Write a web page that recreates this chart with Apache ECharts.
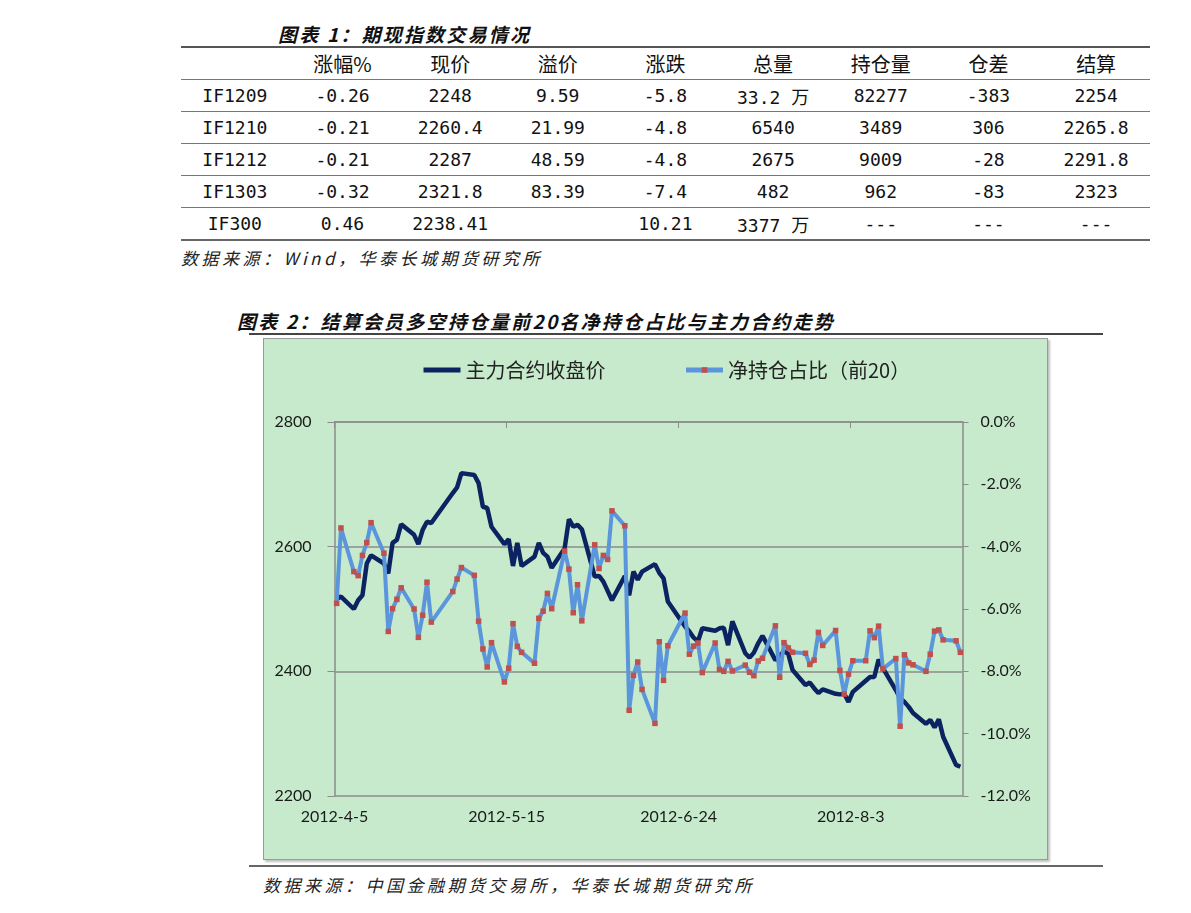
<!DOCTYPE html>
<html>
<head>
<meta charset="utf-8">
<script src="https://cdn.jsdelivr.net/npm/echarts@6/dist/echarts.min.js"></script>
<style>
  body { margin: 0; background: #fff; width: 1191px; height: 913px; position: relative; overflow: hidden;
         font-family: "Noto Sans CJK SC", sans-serif; color: #111; }
  .cap { position: absolute; font-style: italic; font-weight: bold; font-size: 19px; letter-spacing: 2.2px; white-space: nowrap; }
  .src { position: absolute; font-style: italic; font-size: 17px; letter-spacing: 3.5px; white-space: nowrap; color: #222; }
  .rule { position: absolute; background: #444; }
  table { position: absolute; left: 181px; top: 46px; width: 969px; border-collapse: collapse; table-layout: fixed; }
  th, td { text-align: center; padding: 0; height: 31px; white-space: nowrap; }
  th { font-weight: normal; font-size: 20px; border-top: 2px solid #555; border-bottom: 1.5px solid #777; }
  td { font-family: "DejaVu Sans Mono", "Noto Sans CJK SC", monospace; font-size: 18px; border-bottom: 1.5px solid #777; }
  tr:last-child td { border-bottom: 2px solid #666; }
  #chart { position: absolute; left: 263px; top: 338px; width: 785px; height: 522px; box-sizing: border-box;
           border: 1px solid #9a9a9a; box-shadow: 2px 2px 2px rgba(0,0,0,0.25); background: #c6eacb; }
</style>
</head>
<body>
<div class="cap" style="left:278px; top:20px;">图表 1：期现指数交易情况</div>
<table id="tbl"></table>
<div class="src" style="left:181px; top:245px;">数据来源：Wind，华泰长城期货研究所</div>

<div class="cap" style="left:237px; top:307px;">图表 2：结算会员多空持仓量前20名净持仓占比与主力合约走势</div>
<div class="rule" style="left:249px; top:333px; width:854px; height:1.5px;"></div>
<div id="chart"></div>
<div class="rule" style="left:249px; top:865px; width:854px; height:2px; background:#666;"></div>
<div class="src" style="left:263px; top:872px;">数据来源：中国金融期货交易所，华泰长城期货研究所</div>

<script>
// 表格数据
const tableHeader = ['', '涨幅%', '现价', '溢价', '涨跌', '总量', '持仓量', '仓差', '结算']
const tableRows = [
  ['IF1209', '-0.26', '2248', '9.59', '-5.8', '33.2 万', '82277', '-383', '2254'],
  ['IF1210', '-0.21', '2260.4', '21.99', '-4.8', '6540', '3489', '306', '2265.8'],
  ['IF1212', '-0.21', '2287', '48.59', '-4.8', '2675', '9009', '-28', '2291.8'],
  ['IF1303', '-0.32', '2321.8', '83.39', '-7.4', '482', '962', '-83', '2323'],
  ['IF300', '0.46', '2238.41', '', '10.21', '3377 万', '---', '---', '---'],
]

// 图表数据（交易日）
const dates = [
  '2012-04-05','2012-04-06','2012-04-09','2012-04-10','2012-04-11','2012-04-12','2012-04-13',
  '2012-04-16','2012-04-17','2012-04-18','2012-04-19','2012-04-20','2012-04-23','2012-04-24',
  '2012-04-25','2012-04-26','2012-04-27',
  '2012-05-02','2012-05-03','2012-05-04','2012-05-07','2012-05-08','2012-05-09','2012-05-10',
  '2012-05-11','2012-05-14','2012-05-15','2012-05-16','2012-05-17','2012-05-18','2012-05-21',
  '2012-05-22','2012-05-23','2012-05-24','2012-05-25','2012-05-28','2012-05-29','2012-05-30',
  '2012-05-31',
  '2012-06-01','2012-06-04','2012-06-05','2012-06-06','2012-06-07','2012-06-08','2012-06-11',
  '2012-06-12','2012-06-13','2012-06-14','2012-06-15','2012-06-18','2012-06-19','2012-06-20',
  '2012-06-21','2012-06-25','2012-06-26','2012-06-27','2012-06-28','2012-06-29',
  '2012-07-02','2012-07-03','2012-07-04','2012-07-05','2012-07-06','2012-07-09','2012-07-10',
  '2012-07-11','2012-07-12','2012-07-13','2012-07-16','2012-07-17','2012-07-18','2012-07-19',
  '2012-07-20','2012-07-23','2012-07-24','2012-07-25','2012-07-26','2012-07-27','2012-07-30',
  '2012-07-31',
  '2012-08-01','2012-08-02','2012-08-03','2012-08-06','2012-08-07','2012-08-08','2012-08-09',
  '2012-08-10','2012-08-13','2012-08-14','2012-08-15','2012-08-16','2012-08-17','2012-08-20',
  '2012-08-21','2012-08-22','2012-08-23','2012-08-24','2012-08-27','2012-08-28',
]
// 主力合约收盘价
const closePrice = [
  2516, 2520, 2500, 2514, 2522, 2573, 2586, 2573, 2557, 2606, 2611, 2636, 2619, 2604, 2627, 2640, 2638,
  2686, 2695, 2718, 2715, 2702, 2664, 2662, 2632, 2604, 2612, 2569, 2606, 2569, 2584, 2606, 2590,
  2584, 2566, 2597, 2644, 2632, 2635,
  2628, 2552, 2553, 2544, 2529, 2514, 2553, 2522, 2560, 2547, 2560, 2572, 2558, 2549, 2512, 2472,
  2464, 2454, 2448, 2469,
  2465, 2469, 2470, 2442, 2480, 2429, 2422, 2430, 2445, 2457, 2418, 2425, 2432, 2428, 2402, 2378,
  2382, 2373, 2365, 2371, 2364, 2363,
  2364, 2351, 2367, 2385, 2391, 2391, 2419, 2405, 2370, 2357, 2351, 2343, 2333, 2316, 2322, 2310,
  2323, 2295, 2250, 2247,
]
// 净持仓占比（前20），单位 %
const netRatio = [
  -5.82, -3.40, -4.80, -4.93, -4.28, -3.87, -3.23, -4.21, -6.72, -5.99, -5.69, -5.32, -6.00, -6.91,
  -6.20, -5.14, -6.42,
  -5.44, -5.04, -4.67, -4.92, -6.39, -7.28, -7.86, -7.08, -8.34, -7.90, -6.47, -7.20, -7.39, -7.74,
  -6.30, -6.07, -5.50, -5.99, -4.14, -4.72, -6.12, -5.22,
  -6.38, -3.94, -4.70, -4.28, -4.41, -2.85, -3.33, -9.25, -8.13, -7.70, -8.58, -9.67, -7.05, -8.29,
  -7.18, -6.13, -7.45, -7.19, -7.09, -8.04,
  -7.09, -7.94, -8.00, -7.68, -7.99, -7.80, -8.03, -8.14, -7.67, -7.58, -6.54, -8.19, -7.08, -7.25,
  -7.39, -7.42, -7.78, -7.64, -6.75, -7.17, -6.69, -7.97,
  -8.73, -8.09, -7.66, -7.66, -6.70, -6.92, -6.55, -7.92, -7.59, -9.76, -7.47, -7.73, -7.79, -8.00,
  -7.45, -6.71, -6.67, -6.99, -7.02, -7.39,
]
const tickDates = ['2012-4-5', '2012-5-15', '2012-6-24', '2012-8-3']

// 表格
const tbl = document.getElementById('tbl')
tbl.innerHTML = '<tr>' + tableHeader.map(h => `<th>${h}</th>`).join('') + '</tr>' +
  tableRows.map(r => '<tr>' + r.map(c => `<td>${c}</td>`).join('') + '</tr>').join('')

// 日期 -> 天数偏移
const toUTC = s => { const p = s.split('-').map(Number); return Date.UTC(p[0], p[1] - 1, p[2]) }
const startT = toUTC(dates[0])
const dayOf = s => (toUTC(s) - startT) / 86400000
const tickVals = tickDates.map(dayOf)
const lastDay = dayOf(dates[dates.length - 1]) + 1

const labelFont = { fontFamily: 'Lato', fontSize: 16, color: '#1a1a1a' }
const gray = '#8c8c8c'
const navy = '#0b2461'
const lightBlue = '#5b95db'
const red = '#c0504d'

const chart = echarts.init(document.getElementById('chart'))
chart.setOption({
  animation: false,
  legend: {
    left: 152,
    top: 16,
    itemWidth: 37,
    itemHeight: 7,
    itemGap: 78,
    textStyle: { fontFamily: 'Noto Sans CJK SC', fontSize: 20, color: '#222' },
    data: [
      {
        name: '主力合约收盘价',
        itemStyle: { color: 'rgba(0,0,0,0)', borderWidth: 0 },
        lineStyle: { color: navy, width: 5 },
      },
      {
        name: '净持仓占比（前20）',
        itemStyle: { color: red, borderWidth: 0 },
        lineStyle: { color: lightBlue, width: 5 },
      },
    ],
  },
  grid: { left: 70.5, right: 84.5, top: 83, bottom: 63 },
  xAxis: {
    type: 'value',
    min: 0,
    max: lastDay,
    axisLine: { lineStyle: { color: gray, width: 1.5 } },
    axisTick: { customValues: tickVals, length: 6, lineStyle: { color: gray } },
    axisLabel: {
      customValues: tickVals,
      margin: 13,
      ...labelFont,
      formatter: v => tickDates[tickVals.indexOf(v)] || '',
    },
    splitLine: { show: false },
  },
  yAxis: [
    {
      type: 'value',
      min: 2200,
      max: 2800,
      interval: 200,
      axisLine: { show: true, lineStyle: { color: gray, width: 1.5 } },
      axisTick: { show: true, length: 7, lineStyle: { color: gray } },
      axisLabel: { margin: 23, ...labelFont, formatter: v => String(v) },
      splitLine: { lineStyle: { color: gray, width: 1.5 } },
    },
    {
      type: 'value',
      min: -12,
      max: 0,
      interval: 2,
      axisLine: { show: true, lineStyle: { color: gray, width: 1.5 } },
      axisTick: { show: true, length: 6, lineStyle: { color: gray } },
      axisLabel: { margin: 18, ...labelFont, formatter: v => v.toFixed(1) + '%' },
      splitLine: { show: false },
    },
  ],
  series: [
    {
      name: '主力合约收盘价',
      type: 'line',
      yAxisIndex: 0,
      symbol: 'none',
      z: 2,
      itemStyle: { color: navy },
      lineStyle: { color: navy, width: 4.5 },
      data: dates.map((d, i) => [dayOf(d) + 0.5, closePrice[i]]),
    },
    {
      name: '净持仓占比（前20）',
      type: 'line',
      yAxisIndex: 1,
      symbol: 'rect',
      symbolSize: 5.5,
      showAllSymbol: true,
      z: 3,
      itemStyle: { color: red },
      lineStyle: { color: lightBlue, width: 4 },
      data: dates.map((d, i) => [dayOf(d) + 0.5, netRatio[i]]),
    },
  ],
})
</script>
</body>
</html>
